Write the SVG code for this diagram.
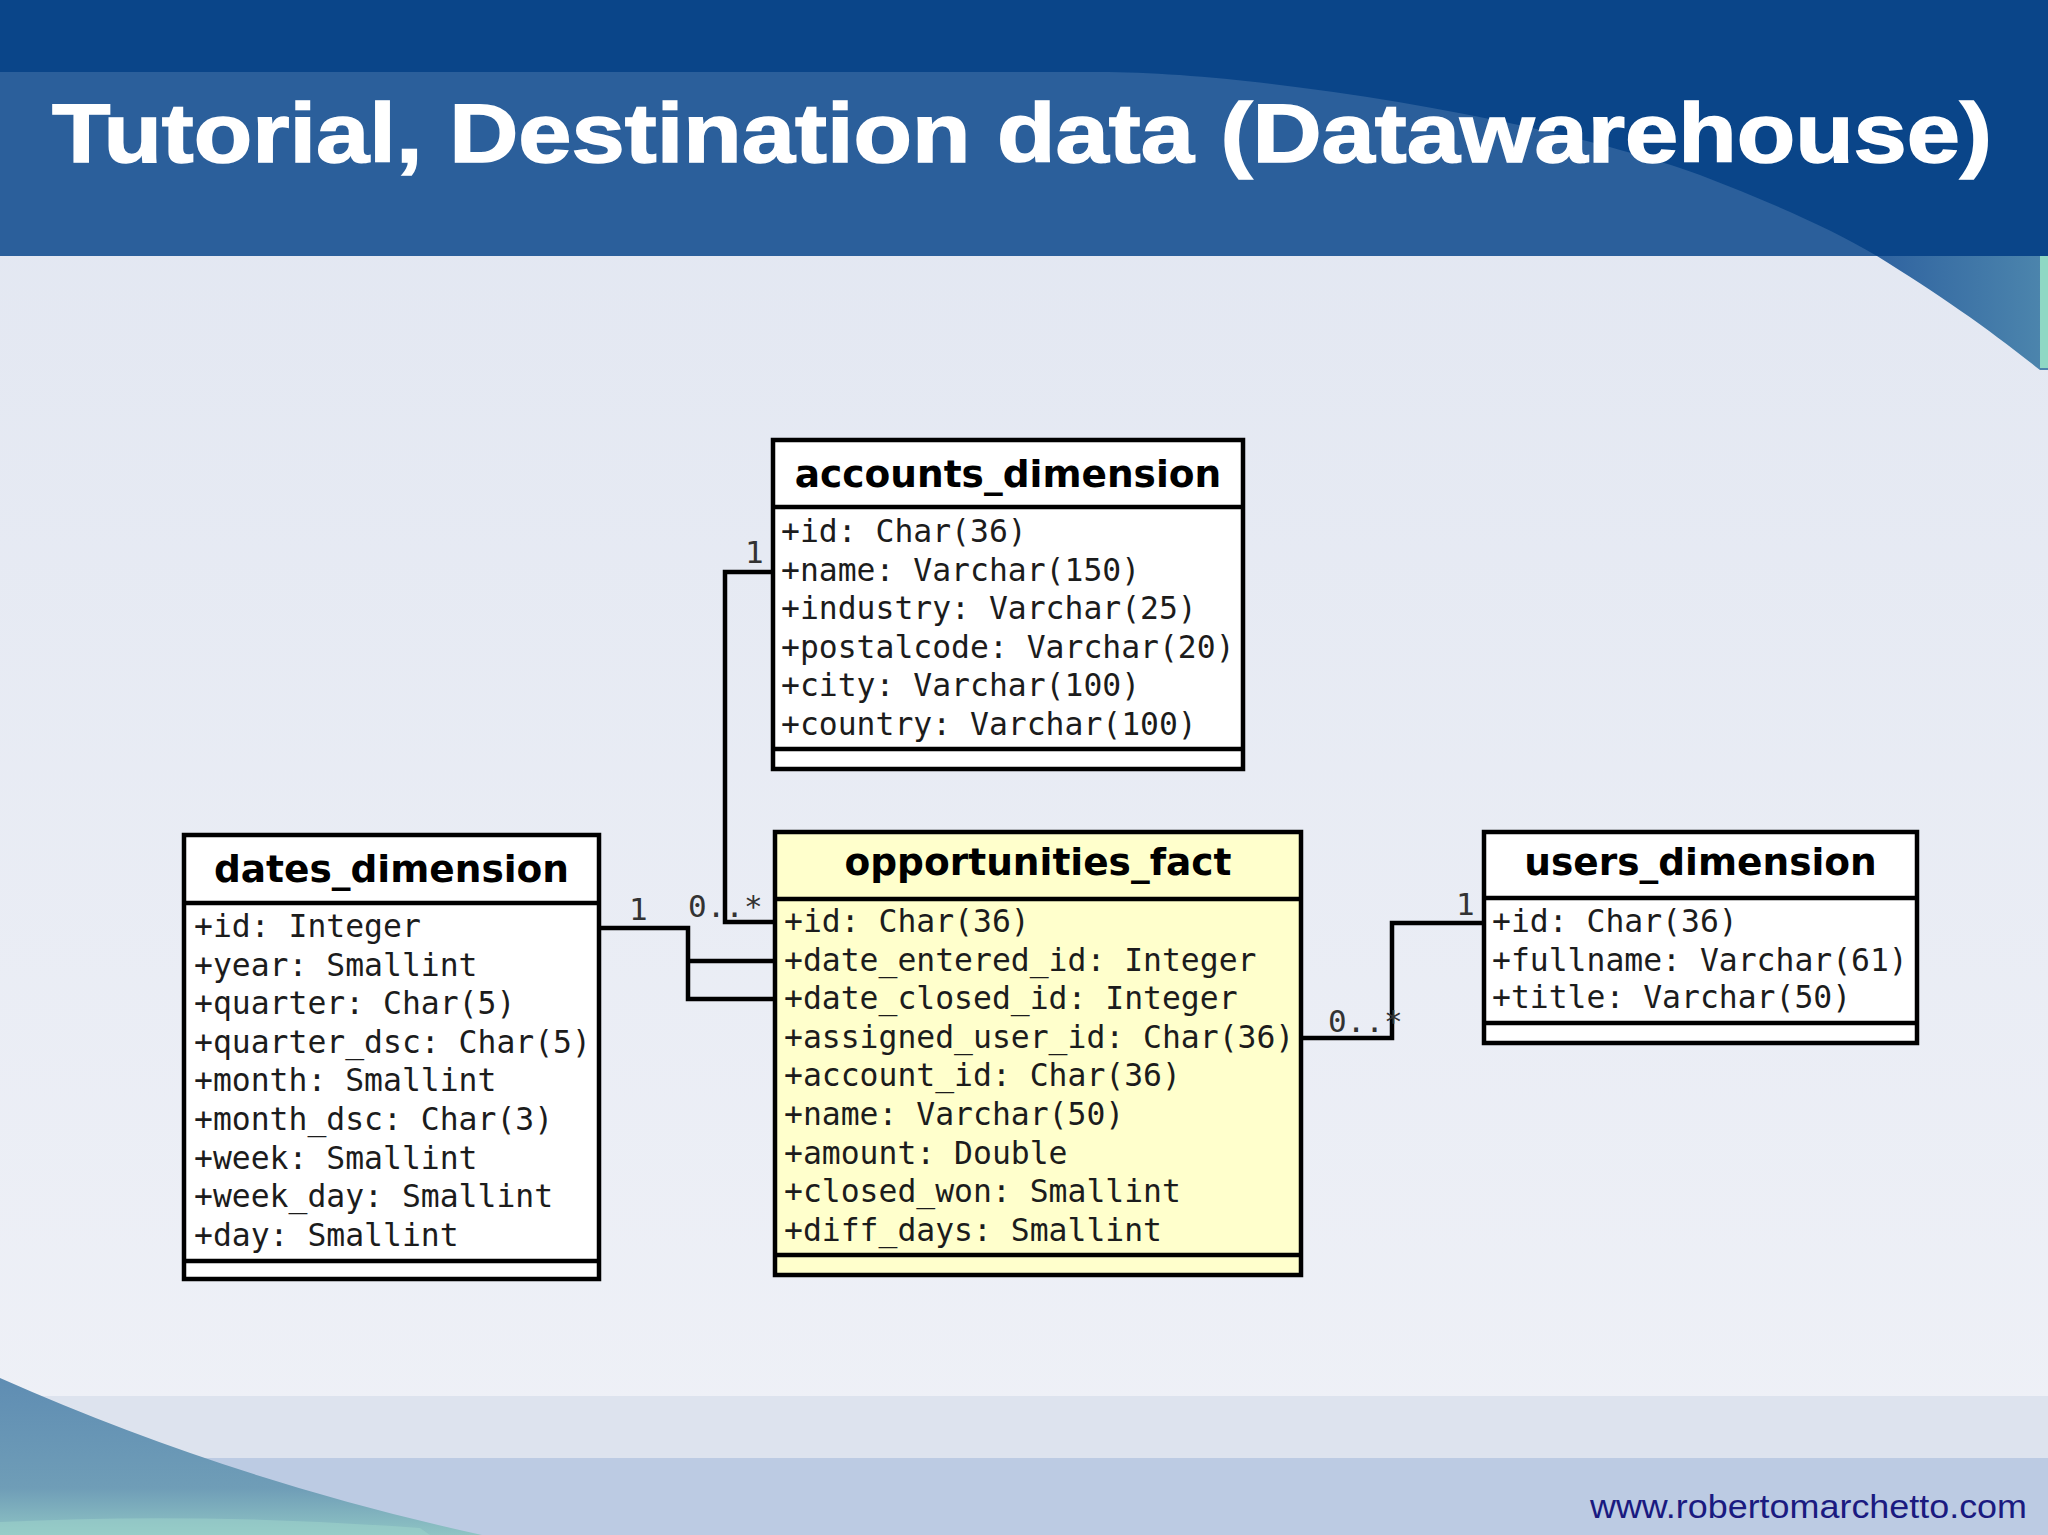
<svg xmlns="http://www.w3.org/2000/svg" width="2048" height="1535" viewBox="0 0 2048 1535">
<defs>
<linearGradient id="bg" x1="0" y1="0" x2="0" y2="1">
<stop offset="0" stop-color="#e1e6f1"/>
<stop offset="1" stop-color="#eff1f7"/>
</linearGradient>
<linearGradient id="corner" x1="0" y1="0" x2="0" y2="1">
<stop offset="0" stop-color="#5f8db3"/>
<stop offset="0.7" stop-color="#6f9db7"/>
<stop offset="1" stop-color="#8fc4c4"/>
</linearGradient>
<linearGradient id="wedge" x1="0" y1="0" x2="1" y2="0">
<stop offset="0" stop-color="#2f63a0"/>
<stop offset="1" stop-color="#4d86ad"/>
</linearGradient>
<style>
.box{stroke:#000;stroke-width:4.5;}
.dim{fill:#ffffff;}
.fact{fill:#ffffcc;}
.div{stroke:#000;stroke-width:4.5;}
.ttl{font-family:"DejaVu Sans",sans-serif;font-weight:bold;font-size:37.5px;fill:#000;text-anchor:middle;}
.att{font-family:"DejaVu Sans Mono",monospace;font-size:31.4px;fill:#1c1c1c;}
.lbl{font-family:"DejaVu Sans Mono",monospace;font-size:31px;fill:#333;}
.con{fill:none;stroke:#000;stroke-width:4.5;}
</style>
</defs>

<!-- background -->
<rect x="0" y="0" width="2048" height="1535" fill="url(#bg)"/>
<rect x="0" y="1396" width="2048" height="62" fill="#dde3ee"/>
<rect x="0" y="1458" width="2048" height="77" fill="#bccbe3"/>
<path d="M0,1378 Q230,1480 482,1535 L0,1535 Z" fill="url(#corner)"/>
<path d="M0,1522 Q200,1512 420,1528 L430,1535 L0,1535 Z" fill="#9fd6cc" opacity="0.5"/>
<rect x="0" y="72" width="2048" height="184" fill="#2b5f9b"/>
<path d="M1877,256 C1940,295 1990,330 2040,370 L2048,370 L2048,256 Z" fill="url(#wedge)"/>
<rect x="2040" y="256" width="8" height="112" fill="#8fd8c4"/>
<path d="M1100,72 C1260,72 1550,120 1700,175 C1770,202 1830,228 1877,256 L2048,256 L2048,72 Z" fill="#0a4589"/>
<rect x="0" y="0" width="2048" height="72" fill="#0a4589"/>
<text x="52" y="162" font-family="'Liberation Sans',Arial,sans-serif" font-weight="bold" font-size="84" fill="#ffffff" stroke="#ffffff" stroke-width="1.5" textLength="1940" lengthAdjust="spacingAndGlyphs">Tutorial, Destination data (Datawarehouse)</text>
<text x="1590" y="1518" font-family="'Liberation Sans',Arial,sans-serif" font-size="33" fill="#1a1a80" textLength="437" lengthAdjust="spacingAndGlyphs">www.robertomarchetto.com</text>

<!-- connectors -->
<g id="connectors">
<path class="con" d="M773,572 H725 V922 H775"/>
<path class="con" d="M599,928 H688 V999 H775 M688,961 H775"/>
<path class="con" d="M1301,1038 H1392 V923 H1484"/>
<text class="lbl" x="745" y="563">1</text>
<text class="lbl" x="629" y="920">1</text>
<text class="lbl" x="688" y="917">0..*</text>
<text class="lbl" x="1456" y="915">1</text>
<text class="lbl" x="1328" y="1032">0..*</text>
</g>

<!-- accounts_dimension -->
<g id="accounts_dimension">
<rect class="box dim" x="773" y="440" width="470" height="329"/>
<line class="div" x1="773" y1="507" x2="1243" y2="507"/>
<line class="div" x1="773" y1="749" x2="1243" y2="749"/>
<text class="ttl" x="1008" y="487">accounts_dimension</text>
<text class="att" x="781" y="542">+id: Char(36)</text>
<text class="att" x="781" y="580.5">+name: Varchar(150)</text>
<text class="att" x="781" y="619">+industry: Varchar(25)</text>
<text class="att" x="781" y="657.5">+postalcode: Varchar(20)</text>
<text class="att" x="781" y="696">+city: Varchar(100)</text>
<text class="att" x="781" y="734.5">+country: Varchar(100)</text>
</g>

<!-- dates_dimension -->
<g id="dates_dimension">
<rect class="box dim" x="184" y="835" width="415" height="444"/>
<line class="div" x1="184" y1="903" x2="599" y2="903"/>
<line class="div" x1="184" y1="1261" x2="599" y2="1261"/>
<text class="ttl" x="391.5" y="882">dates_dimension</text>
<text class="att" x="194" y="937">+id: Integer</text>
<text class="att" x="194" y="975.6">+year: Smallint</text>
<text class="att" x="194" y="1014.2">+quarter: Char(5)</text>
<text class="att" x="194" y="1052.8">+quarter_dsc: Char(5)</text>
<text class="att" x="194" y="1091.4">+month: Smallint</text>
<text class="att" x="194" y="1130">+month_dsc: Char(3)</text>
<text class="att" x="194" y="1168.6">+week: Smallint</text>
<text class="att" x="194" y="1207.2">+week_day: Smallint</text>
<text class="att" x="194" y="1245.8">+day: Smallint</text>
</g>

<!-- opportunities_fact -->
<g id="opportunities_fact">
<rect class="box fact" x="775" y="832" width="526" height="443"/>
<line class="div" x1="775" y1="899" x2="1301" y2="899"/>
<line class="div" x1="775" y1="1255" x2="1301" y2="1255"/>
<text class="ttl" x="1038" y="875">opportunities_fact</text>
<text class="att" x="784" y="932">+id: Char(36)</text>
<text class="att" x="784" y="970.6">+date_entered_id: Integer</text>
<text class="att" x="784" y="1009.2">+date_closed_id: Integer</text>
<text class="att" x="784" y="1047.8">+assigned_user_id: Char(36)</text>
<text class="att" x="784" y="1086.4">+account_id: Char(36)</text>
<text class="att" x="784" y="1125">+name: Varchar(50)</text>
<text class="att" x="784" y="1163.6">+amount: Double</text>
<text class="att" x="784" y="1202.2">+closed_won: Smallint</text>
<text class="att" x="784" y="1240.8">+diff_days: Smallint</text>
</g>

<!-- users_dimension -->
<g id="users_dimension">
<rect class="box dim" x="1484" y="832" width="433" height="211"/>
<line class="div" x1="1484" y1="898" x2="1917" y2="898"/>
<line class="div" x1="1484" y1="1023" x2="1917" y2="1023"/>
<text class="ttl" x="1700.5" y="875">users_dimension</text>
<text class="att" x="1492" y="932">+id: Char(36)</text>
<text class="att" x="1492" y="970.6">+fullname: Varchar(61)</text>
<text class="att" x="1492" y="1008">+title: Varchar(50)</text>
</g>
</svg>
